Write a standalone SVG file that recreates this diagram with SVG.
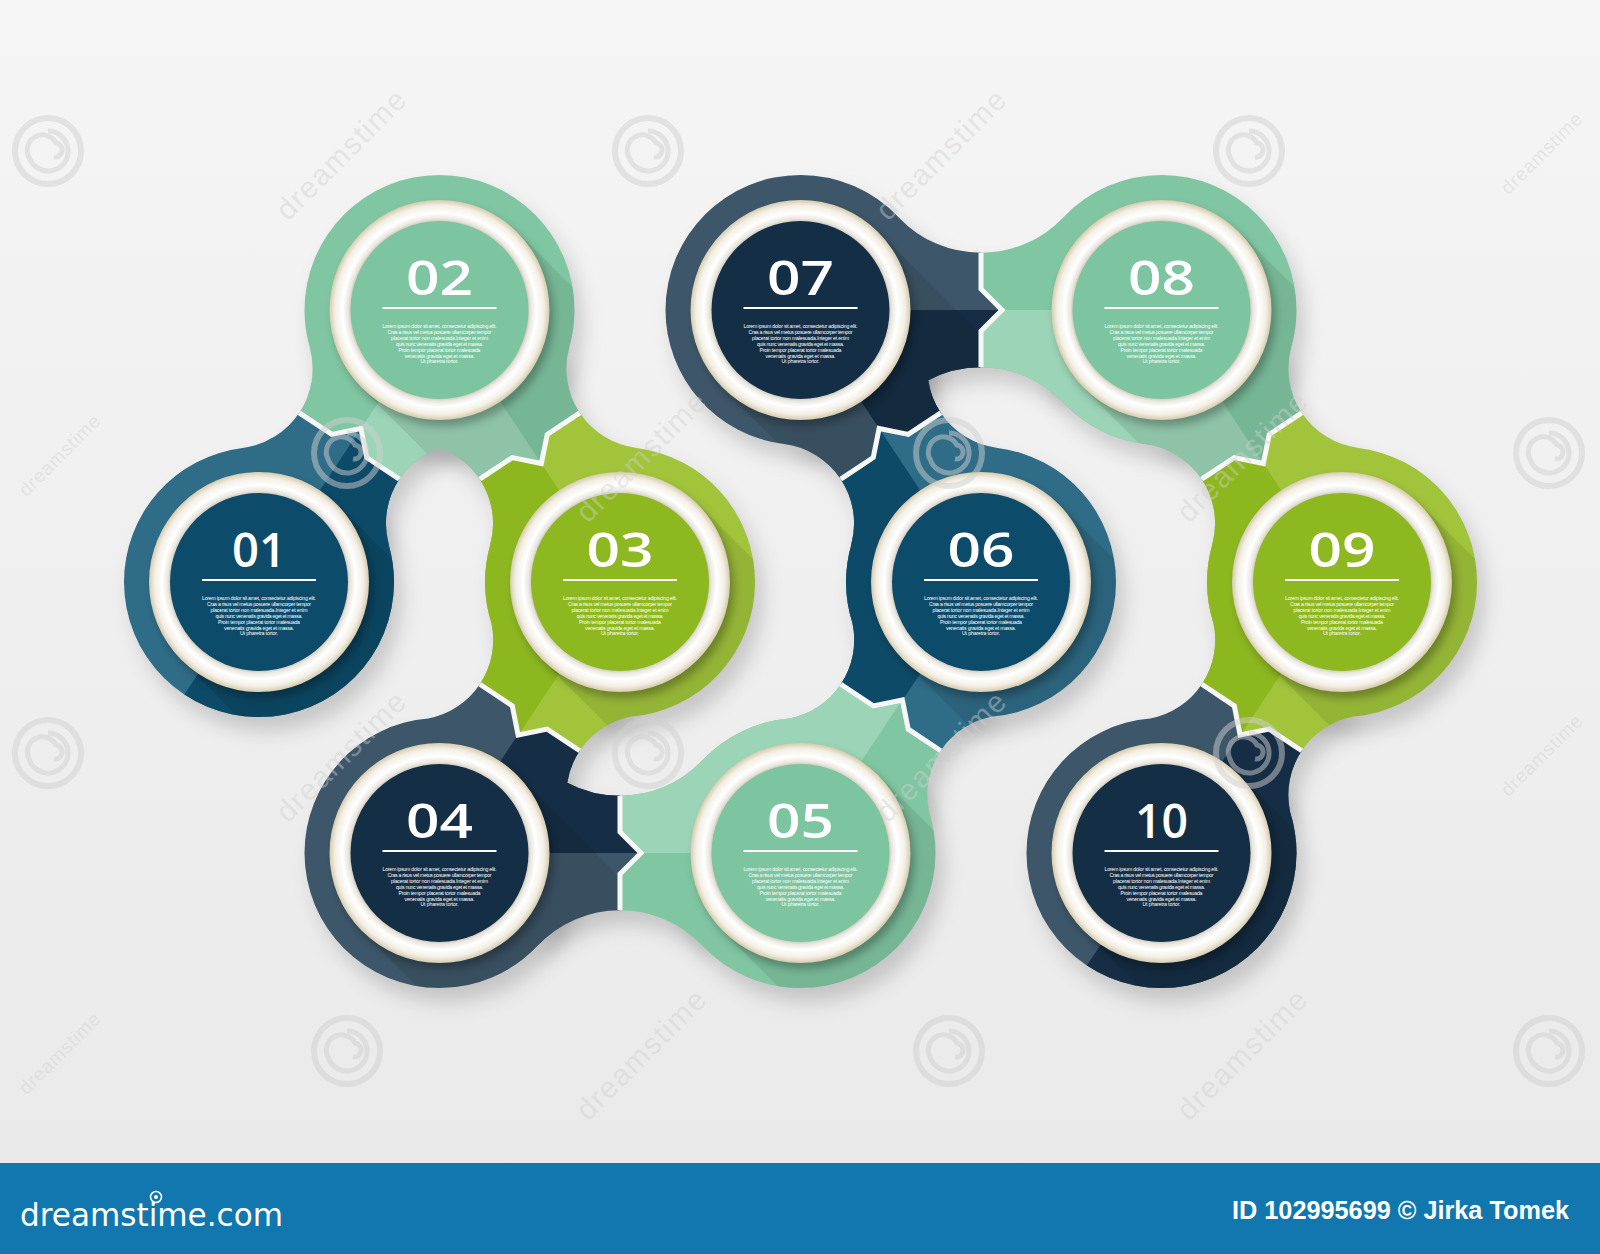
<svg xmlns="http://www.w3.org/2000/svg" xmlns:xlink="http://www.w3.org/1999/xlink" width="1600" height="1254" viewBox="0 0 1600 1254">
<style>
.num{font-family:"Open Sans","Liberation Sans",sans-serif;font-size:47px;font-weight:600;fill:#fff;text-anchor:middle}
.lo{font-family:"Liberation Sans",Arial,sans-serif;font-size:5.2px;fill:#fff;text-anchor:middle}
.ul{stroke:#fff;stroke-width:2}
.ls{fill:#000;fill-opacity:.08}
.rs{fill:#000;fill-opacity:.28;filter:url(#rb)}
.ring{fill:url(#rg)}
.sep{fill:none;stroke:#f7f7f7;stroke-width:5;stroke-linejoin:miter}
.wmt{font-family:"Liberation Sans",Arial,sans-serif;font-size:30px;fill:#d0d0d0;fill-opacity:.45;text-anchor:middle}
.wme{font-family:"Liberation Sans",Arial,sans-serif;font-size:19px;fill:#d0d0d0;fill-opacity:.45;text-anchor:middle}
</style>
<defs>
<linearGradient id="bg" x1="0" y1="0" x2="0" y2="1">
<stop offset="0" stop-color="#f5f5f5"/><stop offset="1" stop-color="#e9e9e9"/>
</linearGradient>
<radialGradient id="rg" cx="50%" cy="50%" r="50%">
<stop offset="0.79" stop-color="#bdb7a8"/>
<stop offset="0.83" stop-color="#e9e6de"/>
<stop offset="0.88" stop-color="#ffffff"/>
<stop offset="0.95" stop-color="#f3efe5"/>
<stop offset="1" stop-color="#d5cbae"/>
</radialGradient>
<filter id="ds" x="-20%" y="-20%" width="140%" height="140%"><feGaussianBlur stdDeviation="10"/></filter>
<filter id="rb" x="-20%" y="-20%" width="140%" height="140%"><feGaussianBlur stdDeviation="4"/></filter>
<path id="sd" d="M-60.7-87.9A80 80 0 0 0 0-60L0-21 21 0 0 21 0 60A80 80 0 0 0-60.7 87.9Z"/>
<path id="dd" d="M60.7-87.9A80 80 0 0 1 0-60L0-21 21 0 0 21 0 60A80 80 0 0 1 60.7 87.9Z"/>
<path id="sh" d="M-82.2-92.6A112.8 112.8 0 0 0 0-57.2L0-21 21 0 0 21 0 57.2A112.8 112.8 0 0 0-82.2 92.6Z"/>
<path id="dh" d="M82.2-92.6A112.8 112.8 0 0 1 0-57.2L0-21 21 0 0 21 0 57.2A112.8 112.8 0 0 1 82.2 92.6Z"/>
<g id="sp" fill="none" stroke="#cfcfcf" stroke-opacity="0.5">
<circle r="33" stroke-width="6"/>
<path d="M0-20A20 20 0 1 1-19 6A14 14 0 0 1 8-8A7 7 0 0 1 6 6" stroke-width="5"/>
</g>
<clipPath id="k01"><circle cx="259" cy="582" r="135"/><use xlink:href="#sd" transform="translate(349.25,446) rotate(-56.43)"/></clipPath>
<clipPath id="k02"><circle cx="439.5" cy="310" r="135"/><use xlink:href="#dd" transform="translate(349.25,446) rotate(-56.43)"/><use xlink:href="#sd" transform="translate(529.75,446) rotate(56.43)"/></clipPath>
<clipPath id="k03"><circle cx="620" cy="582" r="135"/><use xlink:href="#dd" transform="translate(529.75,446) rotate(56.43)"/><use xlink:href="#sd" transform="translate(529.75,717.5) rotate(123.66)"/></clipPath>
<clipPath id="k04"><circle cx="439.5" cy="853" r="135"/><use xlink:href="#dd" transform="translate(529.75,717.5) rotate(123.66)"/><use xlink:href="#sh" transform="translate(620,853)"/></clipPath>
<clipPath id="k05"><circle cx="800.5" cy="853" r="135"/><use xlink:href="#dh" transform="translate(620,853)"/><use xlink:href="#sd" transform="translate(890.75,717.5) rotate(-56.34)"/></clipPath>
<clipPath id="k06"><circle cx="981" cy="582" r="135"/><use xlink:href="#dd" transform="translate(890.75,717.5) rotate(-56.34)"/><use xlink:href="#sd" transform="translate(890.75,446) rotate(-123.57)"/></clipPath>
<clipPath id="k07"><circle cx="800.5" cy="310" r="135"/><use xlink:href="#dd" transform="translate(890.75,446) rotate(-123.57)"/><use xlink:href="#sh" transform="translate(981,310)"/></clipPath>
<clipPath id="k08"><circle cx="1161.5" cy="310" r="135"/><use xlink:href="#dh" transform="translate(981,310)"/><use xlink:href="#sd" transform="translate(1251.75,446) rotate(56.43)"/></clipPath>
<clipPath id="k09"><circle cx="1342" cy="582" r="135"/><use xlink:href="#dd" transform="translate(1251.75,446) rotate(56.43)"/><use xlink:href="#sd" transform="translate(1251.75,717.5) rotate(123.66)"/></clipPath>
<clipPath id="k10"><circle cx="1161.5" cy="853" r="135"/><use xlink:href="#dd" transform="translate(1251.75,717.5) rotate(123.66)"/></clipPath>
</defs>

<rect width="1600" height="1254" fill="url(#bg)"/>

<g id="shape-shadow" fill="#000" fill-opacity="0.17" filter="url(#ds)" transform="translate(8,14)">
<circle cx="259" cy="582" r="135"/><circle cx="439.5" cy="310" r="135"/><circle cx="620" cy="582" r="135"/><circle cx="439.5" cy="853" r="135"/><circle cx="800.5" cy="853" r="135"/><circle cx="981" cy="582" r="135"/><circle cx="800.5" cy="310" r="135"/><circle cx="1161.5" cy="310" r="135"/><circle cx="1342" cy="582" r="135"/><circle cx="1161.5" cy="853" r="135"/>
<use xlink:href="#sd" transform="translate(349.25,446) rotate(-56.43)"/><use xlink:href="#dd" transform="translate(349.25,446) rotate(-56.43)"/>
<use xlink:href="#sd" transform="translate(529.75,446) rotate(56.43)"/><use xlink:href="#dd" transform="translate(529.75,446) rotate(56.43)"/>
<use xlink:href="#sd" transform="translate(529.75,717.5) rotate(123.66)"/><use xlink:href="#dd" transform="translate(529.75,717.5) rotate(123.66)"/>
<use xlink:href="#sh" transform="translate(620,853)"/><use xlink:href="#dh" transform="translate(620,853)"/>
<use xlink:href="#sd" transform="translate(890.75,717.5) rotate(-56.34)"/><use xlink:href="#dd" transform="translate(890.75,717.5) rotate(-56.34)"/>
<use xlink:href="#sd" transform="translate(890.75,446) rotate(-123.57)"/><use xlink:href="#dd" transform="translate(890.75,446) rotate(-123.57)"/>
<use xlink:href="#sh" transform="translate(981,310)"/><use xlink:href="#dh" transform="translate(981,310)"/>
<use xlink:href="#sd" transform="translate(1251.75,446) rotate(56.43)"/><use xlink:href="#dd" transform="translate(1251.75,446) rotate(56.43)"/>
<use xlink:href="#sd" transform="translate(1251.75,717.5) rotate(123.66)"/><use xlink:href="#dd" transform="translate(1251.75,717.5) rotate(123.66)"/>
</g>

<g id="node-01">
<g clip-path="url(#k01)">
<rect x="-41" y="282" width="600" height="600" fill="#2f6c87"/>
<polygon points="259,582 590.7,82 759,913.7 -72.7,1082" fill="#0c4a68"/>
<polygon class="ls" points="337,504 737,904 581,1060 181,660"/>
</g>
<circle class="rs" cx="263" cy="588" r="110"/>
<circle class="ring" cx="259" cy="582" r="110"/>
<circle cx="259" cy="582" r="89" fill="#0d4b6b"/>
<text class="num" x="259" y="567" textLength="54" lengthAdjust="spacingAndGlyphs">01</text>
<line class="ul" x1="202" y1="580" x2="316" y2="580"/>
<text class="lo" x="259" y="600" textLength="114">Lorem ipsum dolor sit amet, consectetur adipiscing elit.</text>
<text class="lo" x="259" y="606" textLength="104">Cras a risus vel metus posuere ullamcorper tempor</text>
<text class="lo" x="259" y="612" textLength="97">placerat tortor non malesuada.Integer et enim</text>
<text class="lo" x="259" y="618" textLength="87">quis nunc venenatis gravida eget et massa.</text>
<text class="lo" x="259" y="624" textLength="82">Proin tempor placerat tortor malesuada</text>
<text class="lo" x="259" y="629.5" textLength="70">venenatis gravida eget et massa.</text>
<text class="lo" x="259" y="635" textLength="38">Ut pharetra tortor.</text>
</g>

<g id="node-02">
<g clip-path="url(#k02)">
<rect x="139.5" y="10" width="600" height="600" fill="#80c6a2"/>
<polygon points="439.5,310 771.2,810 107.8,810" fill="#9bd4b6"/>
<polygon class="ls" points="517.5,232 917.5,632 761.5,788 361.5,388"/>
</g>
<circle class="rs" cx="443.5" cy="316" r="110"/>
<circle class="ring" cx="439.5" cy="310" r="110"/>
<circle cx="439.5" cy="310" r="89" fill="#7cc5a0"/>
<text class="num" x="439.5" y="295" textLength="67" lengthAdjust="spacingAndGlyphs">02</text>
<line class="ul" x1="382.5" y1="308" x2="496.5" y2="308"/>
<text class="lo" x="439.5" y="328" textLength="114">Lorem ipsum dolor sit amet, consectetur adipiscing elit.</text>
<text class="lo" x="439.5" y="334" textLength="104">Cras a risus vel metus posuere ullamcorper tempor</text>
<text class="lo" x="439.5" y="340" textLength="97">placerat tortor non malesuada.Integer et enim</text>
<text class="lo" x="439.5" y="346" textLength="87">quis nunc venenatis gravida eget et massa.</text>
<text class="lo" x="439.5" y="352" textLength="82">Proin tempor placerat tortor malesuada</text>
<text class="lo" x="439.5" y="357.5" textLength="70">venenatis gravida eget et massa.</text>
<text class="lo" x="439.5" y="363" textLength="38">Ut pharetra tortor.</text>
</g>

<g id="node-03">
<g clip-path="url(#k03)">
<rect x="320" y="282" width="600" height="600" fill="#a1c43b"/>
<polygon points="620,582 288.3,1082 20,582 288.3,82" fill="#8cb71f"/>
<polygon class="ls" points="698,504 1098,904 942,1060 542,660"/>
</g>
<circle class="rs" cx="624" cy="588" r="110"/>
<circle class="ring" cx="620" cy="582" r="110"/>
<circle cx="620" cy="582" r="89" fill="#8db81f"/>
<text class="num" x="620" y="567" textLength="67" lengthAdjust="spacingAndGlyphs">03</text>
<line class="ul" x1="563" y1="580" x2="677" y2="580"/>
<text class="lo" x="620" y="600" textLength="114">Lorem ipsum dolor sit amet, consectetur adipiscing elit.</text>
<text class="lo" x="620" y="606" textLength="104">Cras a risus vel metus posuere ullamcorper tempor</text>
<text class="lo" x="620" y="612" textLength="97">placerat tortor non malesuada.Integer et enim</text>
<text class="lo" x="620" y="618" textLength="87">quis nunc venenatis gravida eget et massa.</text>
<text class="lo" x="620" y="624" textLength="82">Proin tempor placerat tortor malesuada</text>
<text class="lo" x="620" y="629.5" textLength="70">venenatis gravida eget et massa.</text>
<text class="lo" x="620" y="635" textLength="38">Ut pharetra tortor.</text>
</g>

<g id="node-04">
<g clip-path="url(#k04)">
<rect x="139.5" y="553" width="600" height="600" fill="#3d5669"/>
<polygon points="439.5,853 771.2,353 1039.5,853" fill="#152e45"/>
<polygon class="ls" points="517.5,775 917.5,1175 761.5,1331 361.5,931"/>
</g>
<circle class="rs" cx="443.5" cy="859" r="110"/>
<circle class="ring" cx="439.5" cy="853" r="110"/>
<circle cx="439.5" cy="853" r="89" fill="#142e45"/>
<text class="num" x="439.5" y="838" textLength="67" lengthAdjust="spacingAndGlyphs">04</text>
<line class="ul" x1="382.5" y1="851" x2="496.5" y2="851"/>
<text class="lo" x="439.5" y="871" textLength="114">Lorem ipsum dolor sit amet, consectetur adipiscing elit.</text>
<text class="lo" x="439.5" y="877" textLength="104">Cras a risus vel metus posuere ullamcorper tempor</text>
<text class="lo" x="439.5" y="883" textLength="97">placerat tortor non malesuada.Integer et enim</text>
<text class="lo" x="439.5" y="889" textLength="87">quis nunc venenatis gravida eget et massa.</text>
<text class="lo" x="439.5" y="895" textLength="82">Proin tempor placerat tortor malesuada</text>
<text class="lo" x="439.5" y="900.5" textLength="70">venenatis gravida eget et massa.</text>
<text class="lo" x="439.5" y="906" textLength="38">Ut pharetra tortor.</text>
</g>

<g id="node-05">
<g clip-path="url(#k05)">
<rect x="500.5" y="553" width="600" height="600" fill="#80c6a2"/>
<polygon points="800.5,853 200.5,853 516.5,324.5 1132.2,353" fill="#9bd4b6"/>
<polygon class="ls" points="878.5,775 1278.5,1175 1122.5,1331 722.5,931"/>
</g>
<circle class="rs" cx="804.5" cy="859" r="110"/>
<circle class="ring" cx="800.5" cy="853" r="110"/>
<circle cx="800.5" cy="853" r="89" fill="#7cc5a0"/>
<text class="num" x="800.5" y="838" textLength="67" lengthAdjust="spacingAndGlyphs">05</text>
<line class="ul" x1="743.5" y1="851" x2="857.5" y2="851"/>
<text class="lo" x="800.5" y="871" textLength="114">Lorem ipsum dolor sit amet, consectetur adipiscing elit.</text>
<text class="lo" x="800.5" y="877" textLength="104">Cras a risus vel metus posuere ullamcorper tempor</text>
<text class="lo" x="800.5" y="883" textLength="97">placerat tortor non malesuada.Integer et enim</text>
<text class="lo" x="800.5" y="889" textLength="87">quis nunc venenatis gravida eget et massa.</text>
<text class="lo" x="800.5" y="895" textLength="82">Proin tempor placerat tortor malesuada</text>
<text class="lo" x="800.5" y="900.5" textLength="70">venenatis gravida eget et massa.</text>
<text class="lo" x="800.5" y="906" textLength="38">Ut pharetra tortor.</text>
</g>

<g id="node-06">
<g clip-path="url(#k06)">
<rect x="681" y="282" width="600" height="600" fill="#2f6c87"/>
<polygon points="981,582 649.3,1082 381,582 649.3,82" fill="#0c4a68"/>
<polygon class="ls" points="1059,504 1459,904 1303,1060 903,660"/>
</g>
<circle class="rs" cx="985" cy="588" r="110"/>
<circle class="ring" cx="981" cy="582" r="110"/>
<circle cx="981" cy="582" r="89" fill="#0d4b6b"/>
<text class="num" x="981" y="567" textLength="67" lengthAdjust="spacingAndGlyphs">06</text>
<line class="ul" x1="924" y1="580" x2="1038" y2="580"/>
<text class="lo" x="981" y="600" textLength="114">Lorem ipsum dolor sit amet, consectetur adipiscing elit.</text>
<text class="lo" x="981" y="606" textLength="104">Cras a risus vel metus posuere ullamcorper tempor</text>
<text class="lo" x="981" y="612" textLength="97">placerat tortor non malesuada.Integer et enim</text>
<text class="lo" x="981" y="618" textLength="87">quis nunc venenatis gravida eget et massa.</text>
<text class="lo" x="981" y="624" textLength="82">Proin tempor placerat tortor malesuada</text>
<text class="lo" x="981" y="629.5" textLength="70">venenatis gravida eget et massa.</text>
<text class="lo" x="981" y="635" textLength="38">Ut pharetra tortor.</text>
</g>

<g id="node-07">
<g clip-path="url(#k07)">
<rect x="500.5" y="10" width="600" height="600" fill="#3d5669"/>
<polygon points="800.5,310 1400.5,310 1132.2,810" fill="#152e45"/>
<polygon class="ls" points="878.5,232 1278.5,632 1122.5,788 722.5,388"/>
</g>
<circle class="rs" cx="804.5" cy="316" r="110"/>
<circle class="ring" cx="800.5" cy="310" r="110"/>
<circle cx="800.5" cy="310" r="89" fill="#142e45"/>
<text class="num" x="800.5" y="295" textLength="67" lengthAdjust="spacingAndGlyphs">07</text>
<line class="ul" x1="743.5" y1="308" x2="857.5" y2="308"/>
<text class="lo" x="800.5" y="328" textLength="114">Lorem ipsum dolor sit amet, consectetur adipiscing elit.</text>
<text class="lo" x="800.5" y="334" textLength="104">Cras a risus vel metus posuere ullamcorper tempor</text>
<text class="lo" x="800.5" y="340" textLength="97">placerat tortor non malesuada.Integer et enim</text>
<text class="lo" x="800.5" y="346" textLength="87">quis nunc venenatis gravida eget et massa.</text>
<text class="lo" x="800.5" y="352" textLength="82">Proin tempor placerat tortor malesuada</text>
<text class="lo" x="800.5" y="357.5" textLength="70">venenatis gravida eget et massa.</text>
<text class="lo" x="800.5" y="363" textLength="38">Ut pharetra tortor.</text>
</g>

<g id="node-08">
<g clip-path="url(#k08)">
<rect x="861.5" y="10" width="600" height="600" fill="#80c6a2"/>
<polygon points="1161.5,310 1493.2,810 877.9,838.8 561.5,310" fill="#9bd4b6"/>
<polygon class="ls" points="1239.5,232 1639.5,632 1483.5,788 1083.5,388"/>
</g>
<circle class="rs" cx="1165.5" cy="316" r="110"/>
<circle class="ring" cx="1161.5" cy="310" r="110"/>
<circle cx="1161.5" cy="310" r="89" fill="#7cc5a0"/>
<text class="num" x="1161.5" y="295" textLength="67" lengthAdjust="spacingAndGlyphs">08</text>
<line class="ul" x1="1104.5" y1="308" x2="1218.5" y2="308"/>
<text class="lo" x="1161.5" y="328" textLength="114">Lorem ipsum dolor sit amet, consectetur adipiscing elit.</text>
<text class="lo" x="1161.5" y="334" textLength="104">Cras a risus vel metus posuere ullamcorper tempor</text>
<text class="lo" x="1161.5" y="340" textLength="97">placerat tortor non malesuada.Integer et enim</text>
<text class="lo" x="1161.5" y="346" textLength="87">quis nunc venenatis gravida eget et massa.</text>
<text class="lo" x="1161.5" y="352" textLength="82">Proin tempor placerat tortor malesuada</text>
<text class="lo" x="1161.5" y="357.5" textLength="70">venenatis gravida eget et massa.</text>
<text class="lo" x="1161.5" y="363" textLength="38">Ut pharetra tortor.</text>
</g>

<g id="node-09">
<g clip-path="url(#k09)">
<rect x="1042" y="282" width="600" height="600" fill="#a1c43b"/>
<polygon points="1342,582 1010.3,1082 742,582 1010.3,82" fill="#8cb71f"/>
<polygon class="ls" points="1420,504 1820,904 1664,1060 1264,660"/>
</g>
<circle class="rs" cx="1346" cy="588" r="110"/>
<circle class="ring" cx="1342" cy="582" r="110"/>
<circle cx="1342" cy="582" r="89" fill="#8db81f"/>
<text class="num" x="1342" y="567" textLength="67" lengthAdjust="spacingAndGlyphs">09</text>
<line class="ul" x1="1285" y1="580" x2="1399" y2="580"/>
<text class="lo" x="1342" y="600" textLength="114">Lorem ipsum dolor sit amet, consectetur adipiscing elit.</text>
<text class="lo" x="1342" y="606" textLength="104">Cras a risus vel metus posuere ullamcorper tempor</text>
<text class="lo" x="1342" y="612" textLength="97">placerat tortor non malesuada.Integer et enim</text>
<text class="lo" x="1342" y="618" textLength="87">quis nunc venenatis gravida eget et massa.</text>
<text class="lo" x="1342" y="624" textLength="82">Proin tempor placerat tortor malesuada</text>
<text class="lo" x="1342" y="629.5" textLength="70">venenatis gravida eget et massa.</text>
<text class="lo" x="1342" y="635" textLength="38">Ut pharetra tortor.</text>
</g>

<g id="node-10">
<g clip-path="url(#k10)">
<rect x="861.5" y="553" width="600" height="600" fill="#3d5669"/>
<polygon points="1161.5,853 1493.2,353 1661.5,1184.7 829.8,1353" fill="#152e45"/>
<polygon class="ls" points="1239.5,775 1639.5,1175 1483.5,1331 1083.5,931"/>
</g>
<circle class="rs" cx="1165.5" cy="859" r="110"/>
<circle class="ring" cx="1161.5" cy="853" r="110"/>
<circle cx="1161.5" cy="853" r="89" fill="#142e45"/>
<text class="num" x="1161.5" y="838" textLength="53" lengthAdjust="spacingAndGlyphs">10</text>
<line class="ul" x1="1104.5" y1="851" x2="1218.5" y2="851"/>
<text class="lo" x="1161.5" y="871" textLength="114">Lorem ipsum dolor sit amet, consectetur adipiscing elit.</text>
<text class="lo" x="1161.5" y="877" textLength="104">Cras a risus vel metus posuere ullamcorper tempor</text>
<text class="lo" x="1161.5" y="883" textLength="97">placerat tortor non malesuada.Integer et enim</text>
<text class="lo" x="1161.5" y="889" textLength="87">quis nunc venenatis gravida eget et massa.</text>
<text class="lo" x="1161.5" y="895" textLength="82">Proin tempor placerat tortor malesuada</text>
<text class="lo" x="1161.5" y="900.5" textLength="70">venenatis gravida eget et massa.</text>
<text class="lo" x="1161.5" y="906" textLength="38">Ut pharetra tortor.</text>
</g>

<g id="connectors">
<polyline class="sep" points="0,-60 0,-21 21,0 0,21 0,60" transform="translate(349.25,446) rotate(-56.43)"/>
<polyline class="sep" points="0,-60 0,-21 21,0 0,21 0,60" transform="translate(529.75,446) rotate(56.43)"/>
<polyline class="sep" points="0,-60 0,-21 21,0 0,21 0,60" transform="translate(529.75,717.5) rotate(123.66)"/>
<polyline class="sep" points="0,-57 0,-21 21,0 0,21 0,57" transform="translate(620,853)"/>
<polyline class="sep" points="0,-60 0,-21 21,0 0,21 0,60" transform="translate(890.75,717.5) rotate(-56.34)"/>
<polyline class="sep" points="0,-60 0,-21 21,0 0,21 0,60" transform="translate(890.75,446) rotate(-123.57)"/>
<polyline class="sep" points="0,-57 0,-21 21,0 0,21 0,57" transform="translate(981,310)"/>
<polyline class="sep" points="0,-60 0,-21 21,0 0,21 0,60" transform="translate(1251.75,446) rotate(56.43)"/>
<polyline class="sep" points="0,-60 0,-21 21,0 0,21 0,60" transform="translate(1251.75,717.5) rotate(123.66)"/>
</g>

<g id="watermark">
<use xlink:href="#sp" x="48" y="151"/><use xlink:href="#sp" x="648" y="151"/><use xlink:href="#sp" x="1249" y="151"/>
<use xlink:href="#sp" x="347" y="453"/><use xlink:href="#sp" x="949" y="453"/><use xlink:href="#sp" x="1549" y="453"/>
<use xlink:href="#sp" x="48" y="753"/><use xlink:href="#sp" x="648" y="753"/><use xlink:href="#sp" x="1249" y="753"/>
<use xlink:href="#sp" x="347" y="1051"/><use xlink:href="#sp" x="949" y="1051"/><use xlink:href="#sp" x="1549" y="1051"/>
<text class="wmt" transform="translate(348,162) rotate(-45)" textLength="170">dreamstime</text>
<text class="wmt" transform="translate(948,162) rotate(-45)" textLength="170">dreamstime</text>
<text class="wme" transform="translate(1546,158) rotate(-45)" textLength="106">dreamstime</text>
<text class="wme" transform="translate(64,460) rotate(-45)" textLength="106">dreamstime</text>
<text class="wmt" transform="translate(648,464) rotate(-45)" textLength="170">dreamstime</text>
<text class="wmt" transform="translate(1249,464) rotate(-45)" textLength="170">dreamstime</text>
<text class="wmt" transform="translate(348,764) rotate(-45)" textLength="170">dreamstime</text>
<text class="wmt" transform="translate(948,764) rotate(-45)" textLength="170">dreamstime</text>
<text class="wme" transform="translate(1546,760) rotate(-45)" textLength="106">dreamstime</text>
<text class="wme" transform="translate(64,1058) rotate(-45)" textLength="106">dreamstime</text>
<text class="wmt" transform="translate(648,1062) rotate(-45)" textLength="170">dreamstime</text>
<text class="wmt" transform="translate(1249,1062) rotate(-45)" textLength="170">dreamstime</text>
</g>

<g id="footer">
<rect x="0" y="1163" width="1600" height="91" fill="#1177ae"/>
<circle cx="156" cy="1197" r="5.5" fill="none" stroke="#fff" stroke-width="1.6"/>
<circle cx="156" cy="1197" r="2" fill="#fff"/>
<text x="20" y="1226" font-family="'DejaVu Sans','Liberation Sans',sans-serif" font-size="32" fill="#fff" textLength="263" lengthAdjust="spacingAndGlyphs">dreamstime.com</text>
<text x="1569" y="1219" font-family="'Liberation Sans',Arial,sans-serif" font-size="25" font-weight="bold" fill="#fff" text-anchor="end" textLength="337" lengthAdjust="spacingAndGlyphs">ID 102995699 © Jirka Tomek</text>
</g>
</svg>
